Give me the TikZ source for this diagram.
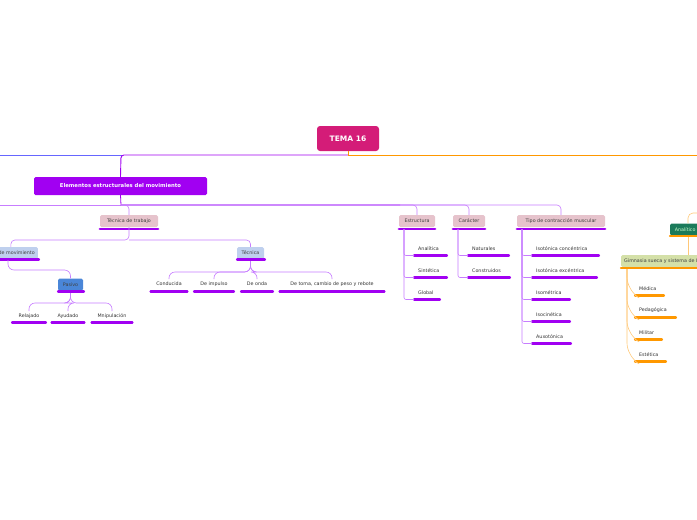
\documentclass[tikz,border=0pt]{standalone}
\usepackage{fontspec}
\setmainfont{DejaVu Sans}
\definecolor{purpleA}{HTML}{A100F2}
\definecolor{purpleL}{HTML}{C77DFF}
\definecolor{pinkbg}{HTML}{E6C3CC}
\definecolor{bluebg}{HTML}{BFD0EE}
\definecolor{orangeA}{HTML}{FF9800}
\definecolor{orangeL}{HTML}{FFC878}
\definecolor{magA}{HTML}{D41C78}
\definecolor{pasivo}{HTML}{4A86D8}
\definecolor{analitico}{HTML}{1B7A5A}
\definecolor{gim}{HTML}{D4E0A8}
\begin{document}
\begin{tikzpicture}[x=1pt,y=-1pt,
  font=\fontsize{4.8}{5.5}\selectfont,
  box/.style={rounded corners=1.5pt,inner sep=0pt,minimum height=12pt,text=black!75},
  lilbox/.style={box,fill=pinkbg},
  lbl/.style={inner sep=0pt,text=black!80,anchor=south west},
  ul/.style={line width=2.2pt,purpleA,line cap=round},
  oul/.style={line width=2.2pt,orangeA,line cap=round},
  conn/.style={purpleL,line width=0.6pt,rounded corners=4pt},
  oconn/.style={orangeL,line width=0.6pt,rounded corners=5pt}]
\useasboundingbox (0,0) rectangle (697,520);
% root
\node[box,fill=magA,text=white,minimum width=62pt,minimum height=25pt,rounded corners=3pt,font=\fontsize{7.5}{9}\selectfont\bfseries] (root) at (348,138.5) {TEMA 16};
\coordinate (rb) at (348,155);
\draw[orangeA,line width=0.7pt] (root.south) -- (rb) -- (697,155);
\draw[blue!60,line width=0.7pt] (0,155) -- (122,155);
\node[box,fill=purpleA,text=white,minimum width=173pt,minimum height=18pt,font=\fontsize{5.3}{6}\selectfont\bfseries] (elem) at (120.5,186) {Elementos estructurales del movimiento};
\draw[purpleA,line width=0.9pt,rounded corners=3pt] (rb) -- (121,155) -- (elem.north);
% level 2 bus
\draw[purpleL,line width=0.8pt] (0,205) -- (121,205);
\draw[purpleA,line width=0.8pt] (elem.south) -- (121,205) -- (400,205);
\node[lilbox,minimum width=58pt] (tt) at (129,221) {Técnica de trabajo};
\node[lilbox,minimum width=36pt] (es) at (417,221) {Estructura};
\node[lilbox,minimum width=32pt] (ca) at (469,221) {Carácter};
\node[lilbox,minimum width=88pt] (tc) at (561,221) {Tipo de contracción muscular};
\draw[conn] (121,205) -| (tt.north);
\draw[conn] (121,205) -| (es.north);
\draw[conn] (121,205) -| (ca.north);
\draw[conn] (121,205) -| (tc.north);
\foreach \n in {tt,es,ca,tc}{\draw[ul] ([yshift=-1.5pt]\n.south west) -- ([yshift=-1.5pt]\n.south east);}
% Tecnica de trabajo children
\node[box,fill=bluebg,anchor=east,minimum width=40pt,inner xsep=3pt] (tm) at (38,253) {Tipo de movimiento};
\node[box,fill=bluebg,minimum width=27pt] (te) at (250.5,253) {Técnica};
\draw[conn] (tt.south) -- (129,240) -| (tm.north);
\draw[conn] (129,240) -| (te.north);
\draw[ul] (0,259.5) -- (39,259.5);
\draw[ul] (237,259.5) -- (265,259.5);
\node[box,fill=pasivo,minimum width=25pt] (pa) at (70.5,284.5) {Pasivo};
\draw[conn,rounded corners=6pt] (8,260) -- (8,270) -| (pa.north);
\draw[ul] (58,291.5) -- (84,291.5);
% pasivo children
\foreach \name/\t/\cx/\w in {re/Relajado/29/34, ay/Ayudado/68/33, mn/Mnipulación/112/41}{
  \node[inner sep=0pt,text=black!80] (\name) at (\cx,316) {\t};
  \draw[ul] (\cx-\w/2,322.5) -- (\cx+\w/2,322.5);
  \draw[conn,rounded corners=6pt] (70.5,293) -- (70.5,303) -| (\cx,311);
}
% tecnica children
\foreach \name/\t/\cx/\w in {co/Conducida/169/37, im/De impulso/214/40, on/De onda/257/32, to/{De toma, cambio de peso y rebote}/332/105}{
  \node[inner sep=0pt,text=black!80] (\name) at (\cx,284) {\t};
  \draw[ul] (\cx-\w/2,291.5) -- (\cx+\w/2,291.5);
  \draw[conn,rounded corners=6pt] (250.5,261) -- (250.5,272) -| (\cx,279);
}
% Estructura, Caracter, Tipo children
\foreach \vx/\list in {404/{Analítica/248/33,Sintética/270/33,Global/292/26},
                       458/{Naturales/248/41,Construidos/270/42},
                       522/{Isotónica concéntrica/248/67,Isotónica excéntrica/270/65,Isométrica/292/38,Isocinética/314/38,Auxotónica/336/39}}{
  \foreach \t/\yy/\w in \list{
    \node[lbl] at (\vx+14,\yy+2.5) {\t};
    \draw[ul] (\vx+10,\yy+7.5) -- (\vx+10+\w,\yy+7.5);
    \draw[conn,rounded corners=2pt] (\vx,229) |- (\vx+10,\yy+7.5);
  }
}
% orange side
\node[box,fill=analitico,text=white!80!green,minimum width=30pt,anchor=west] (an) at (670,229.5) {Analítico};
\draw[oul] (670,236) -- (697,236);
\coordinate (atop) at (697,213);
\draw[oconn] (an.north -| 688,0) -- (688,213) -- (atop);
\node[box,fill=gim,anchor=west,minimum width=80pt,inner xsep=3pt] (gs) at (621,261) {Gimnasia sueca y sistema de Ling};
\draw[oconn] (688,237) -- (gs.north -| 688,0);
\draw[oul] (621,268) -- (697,268);
\foreach \t/\yy/\w in {Médica/288/29,Pedagógica/310/41,Militar/332/27,Estética/354/31}{
  \node[lbl] at (639,\yy+2.5) {\t};
  \draw[oul] (635,\yy+7.5) -- (635+\w,\yy+7.5);
  \draw[oconn,rounded corners=14pt] (627,269) -- (627,\yy+3) -- (635,\yy+7.5);
}
\end{tikzpicture}
\end{document}
